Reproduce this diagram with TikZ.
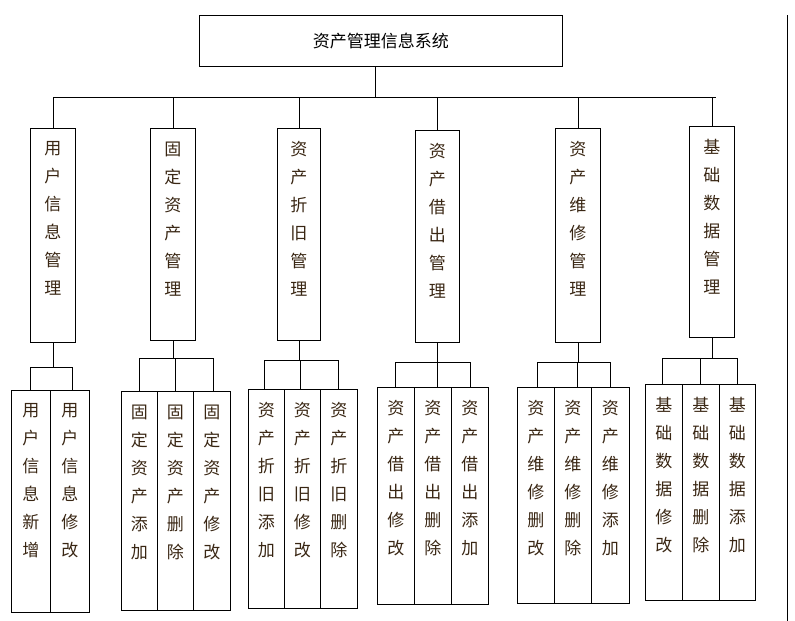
\documentclass[tikz,border=0pt]{standalone}
\usepackage{fontspec}
\newfontfamily\cjk{Noto Sans CJK SC}
\begin{document}
\begin{tikzpicture}[x=1pt,y=-1pt,
  bx/.style={draw,line width=0.8pt,anchor=north west,inner sep=0pt},
  vt/.style={font=\cjk\fontsize{17}{28}\selectfont,align=center,text=black!70!brown},
  ln/.style={line width=0.8pt}]
\useasboundingbox (0,0) rectangle (795,621);
\draw[ln] (787,15) -- (787,621);
\node[bx,minimum width=363pt,minimum height=51pt,font=\cjk\fontsize{17}{20}\selectfont] (top) at (199,15) {资产管理信息系统};
\coordinate (hub) at (375,97);
\draw[ln] (top.south -| hub) -- (hub);
\draw[ln] (53,97) -- (716,97);
% level 2: x1 x2 y1 y2 name text
\foreach \a/\b/\c/\d/\n/\t in {30/75/128/342/m1/用\\户\\信\\息\\管\\理,
  150/195/128/340/m2/固\\定\\资\\产\\管\\理,
  277/320/128/340/m3/资\\产\\折\\旧\\管\\理,
  415/459/130/342/m4/资\\产\\借\\出\\管\\理,
  555/600/128/342/m5/资\\产\\维\\修\\管\\理,
  689/734/126/337/m6/基\\础\\数\\据\\管\\理}{
  \pgfmathsetmacro\w{\b-\a}\pgfmathsetmacro\h{\d-\c}
  \node[bx,minimum width=\w pt,minimum height=\h pt] (\n) at (\a,\c) {};
  \node[vt,anchor=north] at ([yshift=-10pt]\n.north) {\t};
  \coordinate (\n t) at (\n.north |- hub);
  \draw[ln] (\n t) -- (\n.north);
}
% level 3 groups
\newcommand\grp[8]{%
  \foreach \a/\b/\dx/\t in {#5}{
    \pgfmathsetmacro\w{\b-\a}\pgfmathsetmacro\h{#4-#3}
    \node[bx,minimum width=\w pt,minimum height=\h pt] (n\a) at (\a,#3) {};
    \node[vt,anchor=north] at ([yshift=-10pt]n\a.north) {\t};
    \coordinate (d\a) at (\dx,#2);
    \draw[ln] (d\a) -- (\dx,#3);
  }
  \coordinate (#1h) at (#1.south |- 0,#2);
  \draw[ln] (#1.south) -- (#1h);
  \draw[ln] (#6,#2) -- (#7,#2);
}
\grp{m1}{367}{390}{612}{11/50/30/用\\户\\信\\息\\新\\增,50/89/72/用\\户\\信\\息\\修\\改}{30}{72}{}
\grp{m2}{358}{391}{610}{121/157/139/固\\定\\资\\产\\添\\加,157/193/175/固\\定\\资\\产\\删\\除,193/230/213/固\\定\\资\\产\\修\\改}{139}{213}{}
\grp{m3}{360}{389}{608}{248/284/264/资\\产\\折\\旧\\添\\加,284/320/300/资\\产\\折\\旧\\修\\改,320/357/338/资\\产\\折\\旧\\删\\除}{264}{338}{}
\grp{m4}{362}{387}{604}{377/414/395/资\\产\\借\\出\\修\\改,414/451/437/资\\产\\借\\出\\删\\除,451/488/470/资\\产\\借\\出\\添\\加}{395}{470}{}
\grp{m5}{362}{387}{603}{517/554/537/资\\产\\维\\修\\删\\改,554/591/577/资\\产\\维\\修\\删\\除,591/629/610/资\\产\\维\\修\\添\\加}{537}{610}{}
\grp{m6}{358}{384}{600}{645/682/662/基\\础\\数\\据\\修\\改,682/719/700/基\\础\\数\\据\\删\\除,719/755/737/基\\础\\数\\据\\添\\加}{662}{737}{}
\end{tikzpicture}
\end{document}
